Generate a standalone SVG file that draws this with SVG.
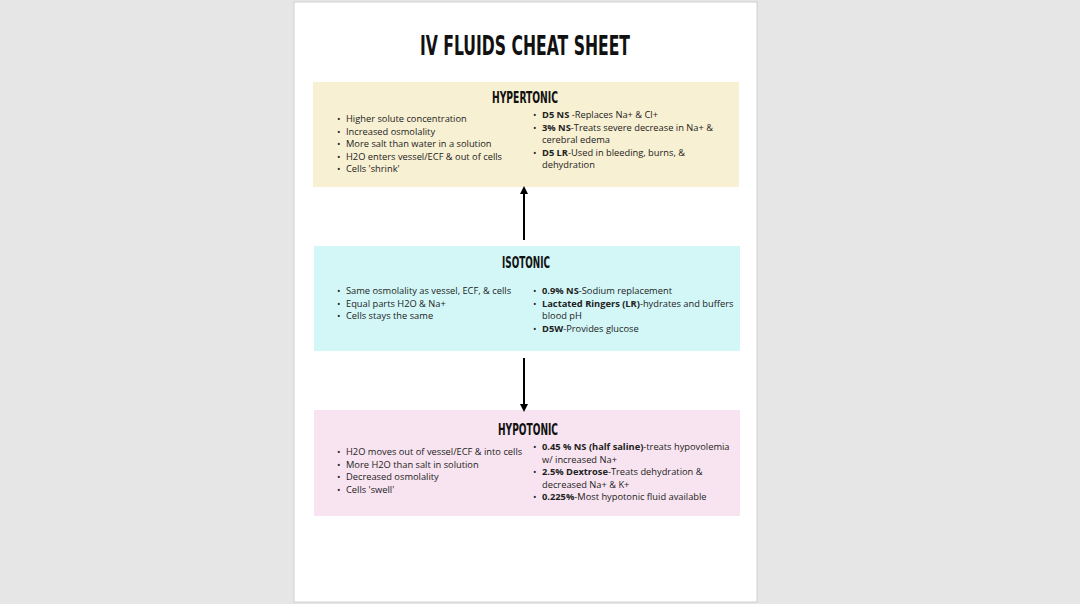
<svg xmlns="http://www.w3.org/2000/svg" width="1080" height="604" viewBox="0 0 1080 604">
<style>
.h{font-family:"DejaVu Sans Condensed","Liberation Sans",sans-serif;font-weight:bold;fill:#111;text-anchor:middle}
.t{font-family:"Open Sans","Liberation Sans",sans-serif;font-size:9.3px;fill:#222}
.b{font-weight:bold}
</style>
<defs><marker id="ah" markerWidth="8" markerHeight="8" refX="4" refY="4" orient="auto" markerUnits="userSpaceOnUse"><path d="M0,0 L8,4 L0,8 Z" fill="#000"/></marker></defs>
<rect width="1080" height="604" fill="#e6e6e6"/>
<rect x="294" y="2" width="463" height="600" fill="#fff" stroke="#d0d0d0"/>
<text x="525" y="55" class="h" font-size="26" textLength="210" lengthAdjust="spacingAndGlyphs">IV FLUIDS CHEAT SHEET</text>
<g id="hypertonic">
<rect x="313" y="82" width="426" height="105" fill="#f8f0d2"/>
<text x="525" y="103" class="h" font-size="15" textLength="66" lengthAdjust="spacingAndGlyphs">HYPERTONIC</text>
<g class="t">
<text x="337" y="122">•<tspan x="346">Higher solute concentration</tspan></text>
<text x="337" y="134.5">•<tspan x="346">Increased osmolality</tspan></text>
<text x="337" y="147">•<tspan x="346">More salt than water in a solution</tspan></text>
<text x="337" y="159.5">•<tspan x="346">H2O enters vessel/ECF &amp; out of cells</tspan></text>
<text x="337" y="172">•<tspan x="346">Cells 'shrink'</tspan></text>
<text x="533" y="118">•<tspan x="542" class="b">D5 NS</tspan> -Replaces Na+ &amp; Cl+</text>
<text x="533" y="130.5">•<tspan x="542" class="b">3% NS</tspan>-Treats severe decrease in Na+ &amp;</text>
<text x="542" y="143">cerebral edema</text>
<text x="533" y="155.5">•<tspan x="542" class="b">D5 LR</tspan>-Used in bleeding, burns, &amp;</text>
<text x="542" y="168">dehydration</text>
</g>
</g>
<g id="isotonic">
<rect x="314" y="246" width="426" height="105" fill="#d3f7f7"/>
<text x="526" y="268" class="h" font-size="15" textLength="48" lengthAdjust="spacingAndGlyphs">ISOTONIC</text>
<g class="t">
<text x="337" y="294">•<tspan x="346">Same osmolality as vessel, ECF, &amp; cells</tspan></text>
<text x="337" y="306.5">•<tspan x="346">Equal parts H2O &amp; Na+</tspan></text>
<text x="337" y="319">•<tspan x="346">Cells stays the same</tspan></text>
<text x="533" y="294">•<tspan x="542" class="b">0.9% NS</tspan>-Sodium replacement</text>
<text x="533" y="306.5">•<tspan x="542" class="b">Lactated Ringers (LR)</tspan>-hydrates and buffers</text>
<text x="542" y="319">blood pH</text>
<text x="533" y="331.5">•<tspan x="542" class="b">D5W</tspan>-Provides glucose</text>
</g>
</g>
<g id="hypotonic">
<rect x="314" y="410" width="426" height="106" fill="#f8e4f0"/>
<text x="528" y="435" class="h" font-size="15" textLength="60" lengthAdjust="spacingAndGlyphs">HYPOTONIC</text>
<g class="t">
<text x="337" y="455">•<tspan x="346">H2O moves out of vessel/ECF &amp; into cells</tspan></text>
<text x="337" y="467.5">•<tspan x="346">More H2O than salt in solution</tspan></text>
<text x="337" y="480">•<tspan x="346">Decreased osmolality</tspan></text>
<text x="337" y="492.5">•<tspan x="346">Cells 'swell'</tspan></text>
<text x="533" y="450">•<tspan x="542" class="b">0.45 % NS (half saline)</tspan>-treats hypovolemia</text>
<text x="542" y="462.5">w/ increased Na+</text>
<text x="533" y="475">•<tspan x="542" class="b">2.5% Dextrose</tspan>-Treats dehydration &amp;</text>
<text x="542" y="487.5">decreased Na+ &amp; K+</text>
<text x="533" y="500">•<tspan x="542" class="b">0.225%</tspan>-Most hypotonic fluid available</text>
</g>
</g>
<g id="connectors" stroke="#000" stroke-width="2">
<line x1="524" y1="240" x2="524" y2="190" marker-end="url(#ah)"/>
<line x1="524" y1="358" x2="524" y2="408" marker-end="url(#ah)"/>
</g>
</svg>
